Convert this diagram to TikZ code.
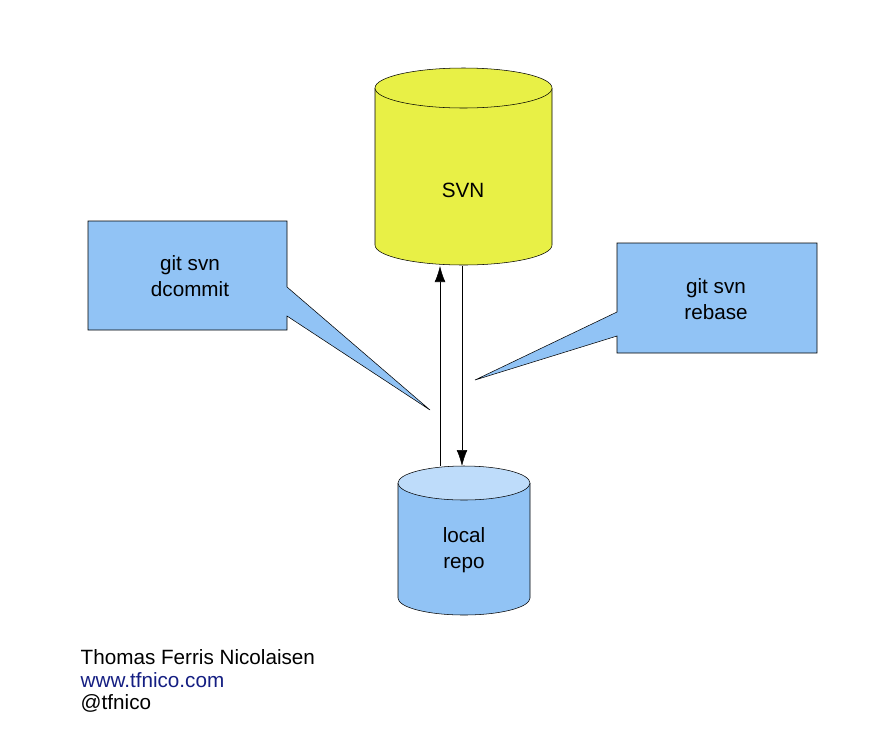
\documentclass[tikz,border=0pt]{standalone}
\usepackage{fontspec}
\setmainfont{Liberation Sans}
\usetikzlibrary{arrows.meta}
\definecolor{svny}{RGB}{232,240,70}
\definecolor{boxb}{RGB}{145,195,245}
\definecolor{topb}{RGB}{190,220,250}
\definecolor{linkb}{RGB}{20,30,130}
\tikzset{
  lbl/.style={font=\fontsize{15.5}{19}\selectfont, align=center},
  foot/.style={font=\fontsize{15.5}{17}\selectfont, anchor=west},
  flow/.style={-{Latex[length=12pt,width=8pt]}, thin}
}
\begin{document}
\begin{tikzpicture}[x=0.75pt,y=-0.75pt]
\useasboundingbox (0,0) rectangle (895,754);
% SVN cylinder
\fill[svny] (375,88) -- (375,245) arc[x radius=88.5,y radius=20,start angle=180,end angle=0] -- (552,88) -- cycle;
\draw (375,88) -- (375,245) arc[x radius=88.5,y radius=20,start angle=180,end angle=0] -- (552,88);
\draw[fill=svny] (463.5,88) ellipse[x radius=88.5,y radius=20];
\node[lbl] (svn) at (463,190) {SVN};
% local repo cylinder
\fill[boxb] (398,483) -- (398,598) arc[x radius=66,y radius=17,start angle=180,end angle=0] -- (530,483) -- cycle;
\draw (398,483) -- (398,598) arc[x radius=66,y radius=17,start angle=180,end angle=0] -- (530,483);
\draw[fill=topb] (464,483) ellipse[x radius=66,y radius=17];
\node[lbl] (repo) at (464,550) {local\\repo};
% arrows
\coordinate (upS) at (440,466);
\coordinate (upE) at (440,266);
\coordinate (dnS) at (462,266);
\coordinate (dnE) at (462,466);
\draw[flow] (upS) -- (upE);
\draw[flow] (dnS) -- (dnE);
% callouts
\coordinate (lt) at (430,410);
\coordinate (rt) at (475,380);
\draw[fill=boxb] (88,221) -- (287,221) -- (287,287) -- (lt) -- (287,316) -- (287,330) -- (88,330) -- cycle;
\node[lbl] (dc) at (190,276) {git svn\\dcommit};
\draw[fill=boxb] (617,243) -- (817,243) -- (817,353) -- (617,353) -- (617,336) -- (rt) -- (617,312) -- cycle;
\node[lbl] (rb) at (716,299) {git svn\\rebase};
% footer
\node[foot] (f1) at (76,657) {Thomas Ferris Nicolaisen};
\node[foot, text=linkb] (f2) at (76,680) {www.tfnico.com};
\node[foot] (f3) at (76,703) {@tfnico};
\end{tikzpicture}
\end{document}
